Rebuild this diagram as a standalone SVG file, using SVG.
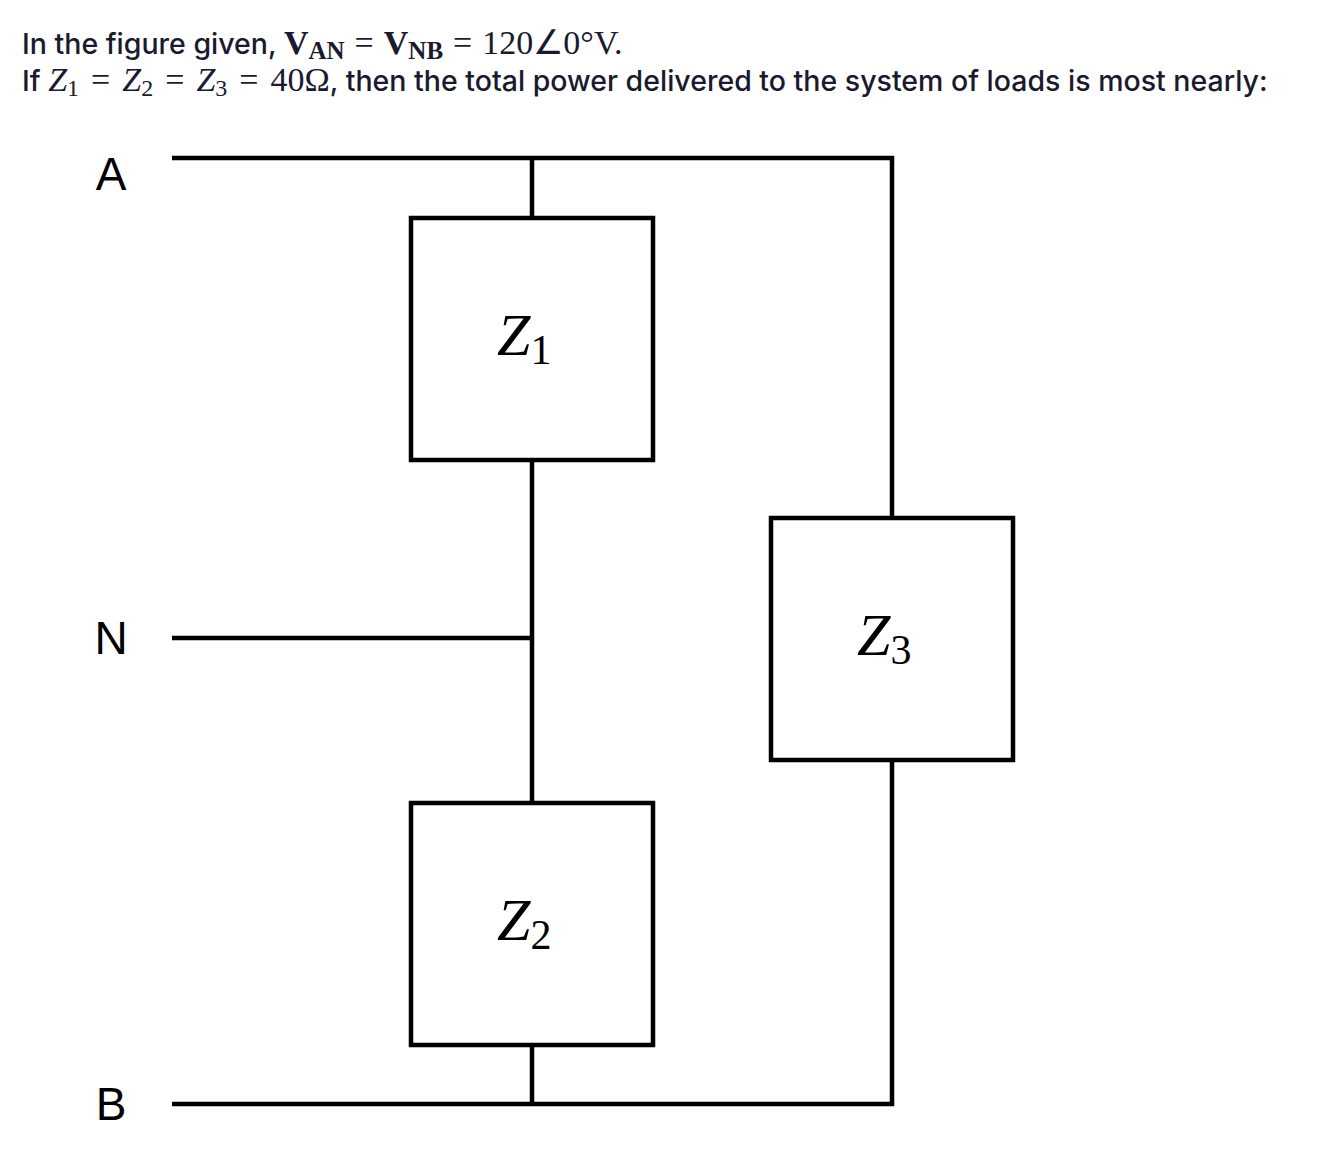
<svg xmlns="http://www.w3.org/2000/svg" width="1341" height="1157" viewBox="0 0 1341 1157">
<style>
.w{fill:none;stroke:#000;stroke-width:4.5}
.hd{font-family:Inter,"Noto Sans",sans-serif;font-size:28.5px;font-weight:500;fill:#1a1a2e}
.m{font-family:"Liberation Serif",serif;font-weight:normal}
.mi{font-family:"Liberation Serif",serif;font-style:italic;font-weight:normal}
.b{font-family:"Liberation Serif",serif;font-weight:bold}
.lbl{font-family:"Liberation Sans",Arial,sans-serif;font-size:46px;fill:#000;text-anchor:middle}
.z{font-family:"Liberation Serif",serif;font-size:60px;fill:#000}
</style>
<rect width="1341" height="1157" fill="#fff"/>
<text class="hd" x="22" y="54">In the figure given, <tspan class="b" font-size="34">V</tspan><tspan class="b" font-size="25" dy="5">AN</tspan><tspan class="m" font-size="34" dy="-5" dx="10">=</tspan><tspan class="b" font-size="34" dx="10">V</tspan><tspan class="b" font-size="25" dy="5">NB</tspan><tspan class="m" font-size="34" dy="-5" dx="10">=</tspan><tspan class="m" font-size="34" dx="10">120∠0°V.</tspan></text>
<text class="hd" x="22" y="91">If <tspan class="mi" font-size="34">Z</tspan><tspan class="m" font-size="24" dy="5">1</tspan><tspan class="m" font-size="34" dy="-5" dx="12">=</tspan><tspan class="mi" font-size="34" dx="12">Z</tspan><tspan class="m" font-size="24" dy="5">2</tspan><tspan class="m" font-size="34" dy="-5" dx="12">=</tspan><tspan class="mi" font-size="34" dx="12">Z</tspan><tspan class="m" font-size="24" dy="5">3</tspan><tspan class="m" font-size="34" dy="-5" dx="12">=</tspan><tspan class="m" font-size="34" dx="12">40Ω</tspan>, then the total power delivered to the system of loads is most nearly:</text>
<g id="connectors">
<polyline class="w" points="172,158 892,158 892,518"/>
<polyline class="w" points="892,760 892,1104 172,1104"/>
<line class="w" x1="532" y1="158" x2="532" y2="218"/>
<line class="w" x1="532" y1="460" x2="532" y2="803"/>
<line class="w" x1="532" y1="1045" x2="532" y2="1104"/>
<line class="w" x1="172" y1="638" x2="532" y2="638"/>
</g>
<g id="A"><text class="lbl" x="111" y="190">A</text></g>
<g id="N"><text class="lbl" x="111" y="654">N</text></g>
<g id="B"><text class="lbl" x="111" y="1120">B</text></g>
<g id="Z1"><rect class="w" x="411" y="218" width="242" height="242"/><text class="z" x="497" y="355"><tspan font-style="italic">Z</tspan><tspan font-size="42" dy="9">1</tspan></text></g>
<g id="Z3"><rect class="w" x="771" y="518" width="242" height="242"/><text class="z" x="857" y="655"><tspan font-style="italic">Z</tspan><tspan font-size="42" dy="9">3</tspan></text></g>
<g id="Z2"><rect class="w" x="411" y="803" width="242" height="242"/><text class="z" x="497" y="940"><tspan font-style="italic">Z</tspan><tspan font-size="42" dy="9">2</tspan></text></g>
</svg>
